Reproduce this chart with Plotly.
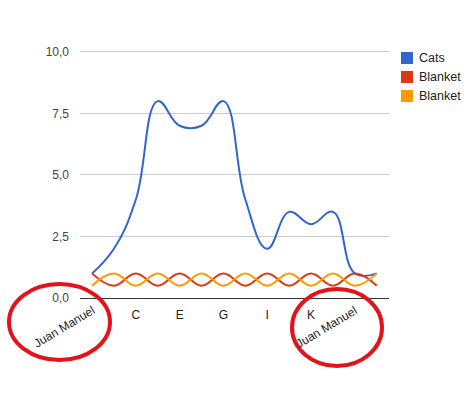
import plotly.graph_objects as go

# Categories along the x axis (the name "Juan Manuel" appears twice)
categories = ["Juan Manuel", "B", "C", "D", "E", "F", "G", "H", "I", "J", "K", "L", "Juan Manuel", "N"]
series_names = ["Cats", "Blanket", "Blanket 2"]
cats = [1, 2, 4, 8, 7, 7, 8, 4, 2, 3.5, 3, 3.5, 1, 1]
blanket = [1, 0.5, 1, 0.5, 1, 0.5, 1, 0.5, 1, 0.5, 1, 0.5, 1, 0.5]
blanket2 = [0.5, 1, 0.5, 1, 0.5, 1, 0.5, 1, 0.5, 1, 0.5, 1, 0.5, 1]
colors = ["#3366CC", "#DC3912", "#FF9900"]

W, H = 464, 401
L, R, T, B = 80, 75, 45, 103
PW, PH = W - L - R, H - T - B


def px_x(px):
    return (px - L) / PW


def px_y(py):
    return (H - B - py) / PH


xs = list(range(len(categories)))
fig = go.Figure()
for name, vals, col in zip(series_names, [cats, blanket, blanket2], colors):
    fig.add_trace(go.Scatter(
        x=xs, y=vals, name=name, mode="lines",
        line=dict(color=col, width=2, shape="spline", smoothing=1.2),
        showlegend=False, hoverinfo="skip",
    ))

# Every other category gets an upright tick label; repeated names are slanted
tick_idx = [i for i in range(2, len(categories) - 2, 2) if categories[i] != "Juan Manuel"]
annotations = []
shapes = []
for i, c in enumerate(categories):
    if c == "Juan Manuel":
        annotations.append(dict(
            x=i, y=0, xref="x", yref="y", text=c, showarrow=False,
            textangle=-31, xshift=-28, yshift=-29,
            font=dict(family="Liberation Sans, Arial", size=12, color="#222"),
        ))

# Legend drawn as coloured squares with labels
for k, (name, col) in enumerate(zip(series_names, colors)):
    top = 52 + 19 * k
    shapes.append(dict(type="rect", xref="paper", yref="paper",
                       x0=px_x(401), x1=px_x(413), y0=px_y(top + 12), y1=px_y(top),
                       fillcolor=col, line=dict(width=0)))
    annotations.append(dict(
        x=px_x(417), y=px_y(top + 6), xref="paper", yref="paper", text=name,
        showarrow=False, xanchor="left", yanchor="middle",
        font=dict(family="Liberation Sans, Arial", size=12.5, color="#222"),
    ))

# Red rings around the repeated labels
for x0, x1, y0, y1 in [(9, 110, 284, 360), (292, 382, 289, 366)]:
    shapes.append(dict(type="circle", xref="paper", yref="paper",
                       x0=px_x(x0), x1=px_x(x1), y0=px_y(y1), y1=px_y(y0),
                       line=dict(color="#E3121B", width=4)))

fig.update_layout(
    width=W, height=H,
    margin=dict(l=L, r=R, t=T, b=B),
    paper_bgcolor="white", plot_bgcolor="white",
    separators=",.",
    font=dict(family="Liberation Sans, Arial", size=12, color="#444"),
    xaxis=dict(
        range=[-0.55, 13.56], tickvals=tick_idx,
        ticktext=[categories[i] for i in tick_idx],
        showgrid=False, zeroline=False, showline=True,
        linecolor="#333", linewidth=1, ticks="",
        tickfont=dict(size=12, color="#222"), ticklabelstandoff=6,
    ),
    yaxis=dict(
        range=[0, 10.28], dtick=2.5, tick0=0, tickformat=".1f",
        showgrid=True, gridcolor="#CCCCCC", gridwidth=1, zeroline=False,
        showline=False, ticks="", ticklabelstandoff=10,
        tickfont=dict(size=12, color="#444"),
    ),
    annotations=annotations,
    shapes=shapes,
)

fig.write_html("out.html")
